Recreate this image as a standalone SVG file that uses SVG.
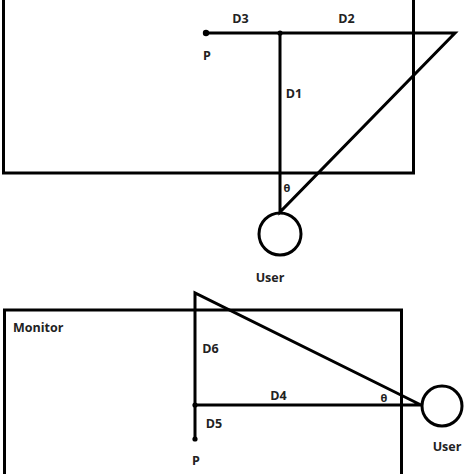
<svg xmlns="http://www.w3.org/2000/svg" width="474" height="474" viewBox="0 0 474 474">
<style>
.ln{fill:none;stroke:#000;stroke-width:3;stroke-linejoin:miter}
.t{font-family:"Open Sans","Liberation Sans",sans-serif;font-weight:bold;font-size:12.5px;fill:#222;text-anchor:middle}
.dot{fill:#000}
</style>
<rect width="474" height="474" fill="#fff"/>
<g id="monitor-top">
<rect class="ln" x="3.5" y="-10" width="410" height="183"/>
</g>
<g id="monitor-bottom">
<rect class="ln" x="4.5" y="310" width="397" height="200"/>
<text class="t" x="13" y="331.5" style="text-anchor:start">Monitor</text>
</g>
<g id="user-top">
<circle class="ln" cx="280" cy="234" r="21"/>
<text class="t" x="270" y="281.5">User</text>
</g>
<g id="user-right">
<circle class="ln" cx="442" cy="406" r="20"/>
<text class="t" x="447" y="450.5">User</text>
</g>
<g id="connectors">
<path class="ln" d="M206 33 H455 L280 212 V33"/>
<circle class="dot" cx="206" cy="33" r="3.2"/>
<circle class="dot" cx="280" cy="33" r="2.6"/>
<path class="ln" d="M195 439 V293 L421 405 H195"/>
<circle class="dot" cx="195" cy="405" r="2.6"/>
<circle class="dot" cx="195" cy="439" r="2.6"/>
</g>
<g id="labels">
<text class="t" x="240.5" y="22.5">D3</text>
<text class="t" x="346.5" y="22.5">D2</text>
<text class="t" x="207" y="59.5">P</text>
<text class="t" x="294" y="97.5">D1</text>
<text class="t" x="287" y="192" style="font-size:11px">θ</text>
<text class="t" x="210.5" y="352.5">D6</text>
<text class="t" x="278.5" y="399.5">D4</text>
<text class="t" x="384" y="402" style="font-size:11px">θ</text>
<text class="t" x="214" y="427.5">D5</text>
<text class="t" x="196" y="464.5">P</text>
</g>
</svg>
